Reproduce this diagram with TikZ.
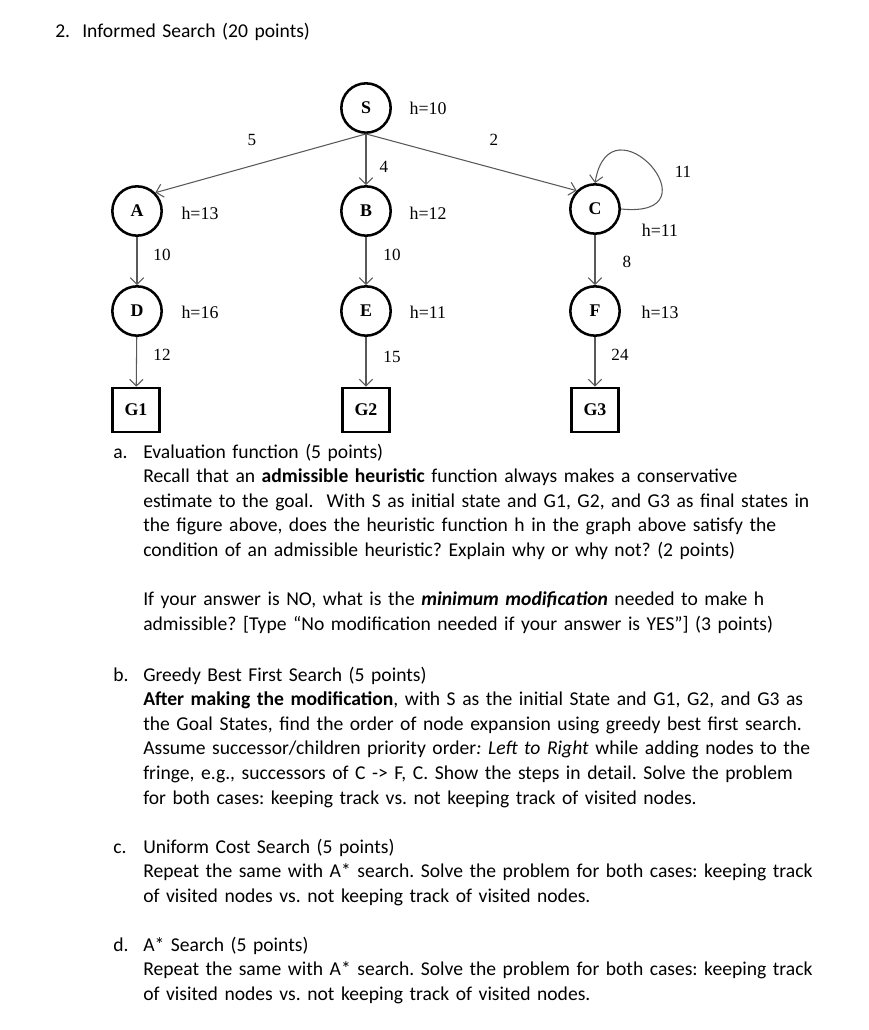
\documentclass[tikz,border=0pt]{standalone}
\usepackage{fontspec}
\setmainfont{Carlito}
\newfontfamily\graphfont{Liberation Serif}
\usetikzlibrary{arrows.meta}
\frenchspacing

\tikzset{
  state/.style={circle, draw, line width=1.9pt, minimum size=37pt, inner sep=0pt,
                font=\graphfont\bfseries\fontsize{13.4}{16}\selectfont},
  goal/.style={rectangle, draw, line width=1.9pt, minimum width=35pt, minimum height=33pt,
               inner sep=0pt, font=\graphfont\bfseries\fontsize{13.4}{16}\selectfont},
  hval/.style={font=\graphfont\fontsize{13.4}{16}\selectfont},
  cost/.style={font=\graphfont\fontsize{12.8}{15}\selectfont},
  edge/.style={draw=black!65, line width=0.8pt, -{Straight Barb[length=5pt,width=10pt]}},
  body/.style={anchor=base west, align=left, text width=580pt, inner sep=0pt,
               font=\fontsize{14.7}{18.45}\selectfont},
}

\begin{document}
\begin{tikzpicture}[x=0.75pt, y=-0.75pt]
  \useasboundingbox (0,0) rectangle (868,1030);

  % heading
  \node[body, text width=20pt] (num) at (55,38) {2.};
  \node[body] (title) at (82,38) {Informed Search (20 points)};

  % the states
  \node[state] (S) at (366,108) {S};
  \node[state] (A) at (137,211) {A};
  \node[state] (B) at (366,211) {B};
  \node[state] (C) at (595,209) {C};
  \node[state] (D) at (137,311) {D};
  \node[state] (E) at (366,311) {E};
  \node[state] (F) at (595,311) {F};
  \node[goal] (G1) at (136,410) {G1};
  \node[goal] (G2) at (366,410) {G2};
  \node[goal] (G3) at (595,410) {G3};

  % heuristic values
  \node[hval] (hS) at (428,108) {h=10};
  \node[hval] (hA) at (200,213) {h=13};
  \node[hval] (hB) at (428,213) {h=12};
  \node[hval] (hC) at (660,230) {h=11};
  \node[hval] (hD) at (200,312) {h=16};
  \node[hval] (hE) at (428,312) {h=11};
  \node[hval] (hF) at (660,312) {h=13};

  % the edges
  \draw[edge] (S.south) -- (A.north east);
  \draw[edge] (S) -- (B);
  \draw[edge] (S.south) -- (C.north west);
  \draw[edge] (C.east) .. controls +(100,10) and +(15,-90) .. (C.north);
  \draw[edge] (A) -- (D);
  \draw[edge] (B) -- (E);
  \draw[edge] (C) -- (F);
  \draw[edge] (D) -- (G1);
  \draw[edge] (E) -- (G2);
  \draw[edge] (F) -- (G3);

  % path costs
  \node[cost] (cSA) at (252,140) {5};
  \node[cost] (cSB) at (384,167) {4};
  \node[cost] (cSC) at (494,140) {2};
  \node[cost] (cCC) at (683,172) {11};
  \node[cost] (cAD) at (162,255) {10};
  \node[cost] (cBE) at (392,255) {10};
  \node[cost] (cCF) at (627,262) {8};
  \node[cost] (cDG) at (162,355) {12};
  \node[cost] (cEG) at (392,357) {15};
  \node[cost] (cFG) at (620,355) {24};

  % questions
  \node[body, text width=20pt] (la) at (113,458) {a.};
  \node[body] (pa) at (143,458) {Evaluation function (5 points)\\
    Recall that an \textbf{admissible heuristic} function always makes a conservative\\
    estimate to the goal.\ \ With S as initial state and G1, G2, and G3 as final states in\\
    the figure above, does the heuristic function h in the graph above satisfy the\\
    condition of an admissible heuristic? Explain why or why not? (2 points)\\[18.45pt]
    If your answer is NO, what is the \textbf{\textit{minimum modification}} needed to make h\\
    admissible? [Type “No modification needed if your answer is YES”] (3 points)};

  \node[body, text width=20pt] (lb) at (113,681) {b.};
  \node[body] (pb) at (143,681) {Greedy Best First Search (5 points)\\
    \textbf{After making the modification}, with S as the initial State and G1, G2, and G3 as\\
    the Goal States, find the order of node expansion using greedy best first search.\\
    Assume successor/children priority order\textit{: Left to Right} while adding nodes to the\\
    fringe, e.g., successors of C -> F, C. Show the steps in detail. Solve the problem\\
    for both cases: keeping track vs. not keeping track of visited nodes.};

  \node[body, text width=20pt] (lc) at (113,853) {c.};
  \node[body] (pc) at (143,853) {Uniform Cost Search (5 points)\\
    Repeat the same with A* search. Solve the problem for both cases: keeping track\\
    of visited nodes vs. not keeping track of visited nodes.};

  \node[body, text width=20pt] (ld) at (113,951) {d.};
  \node[body] (pd) at (143,951) {A* Search (5 points)\\
    Repeat the same with A* search. Solve the problem for both cases: keeping track\\
    of visited nodes vs. not keeping track of visited nodes.};
\end{tikzpicture}
\end{document}
